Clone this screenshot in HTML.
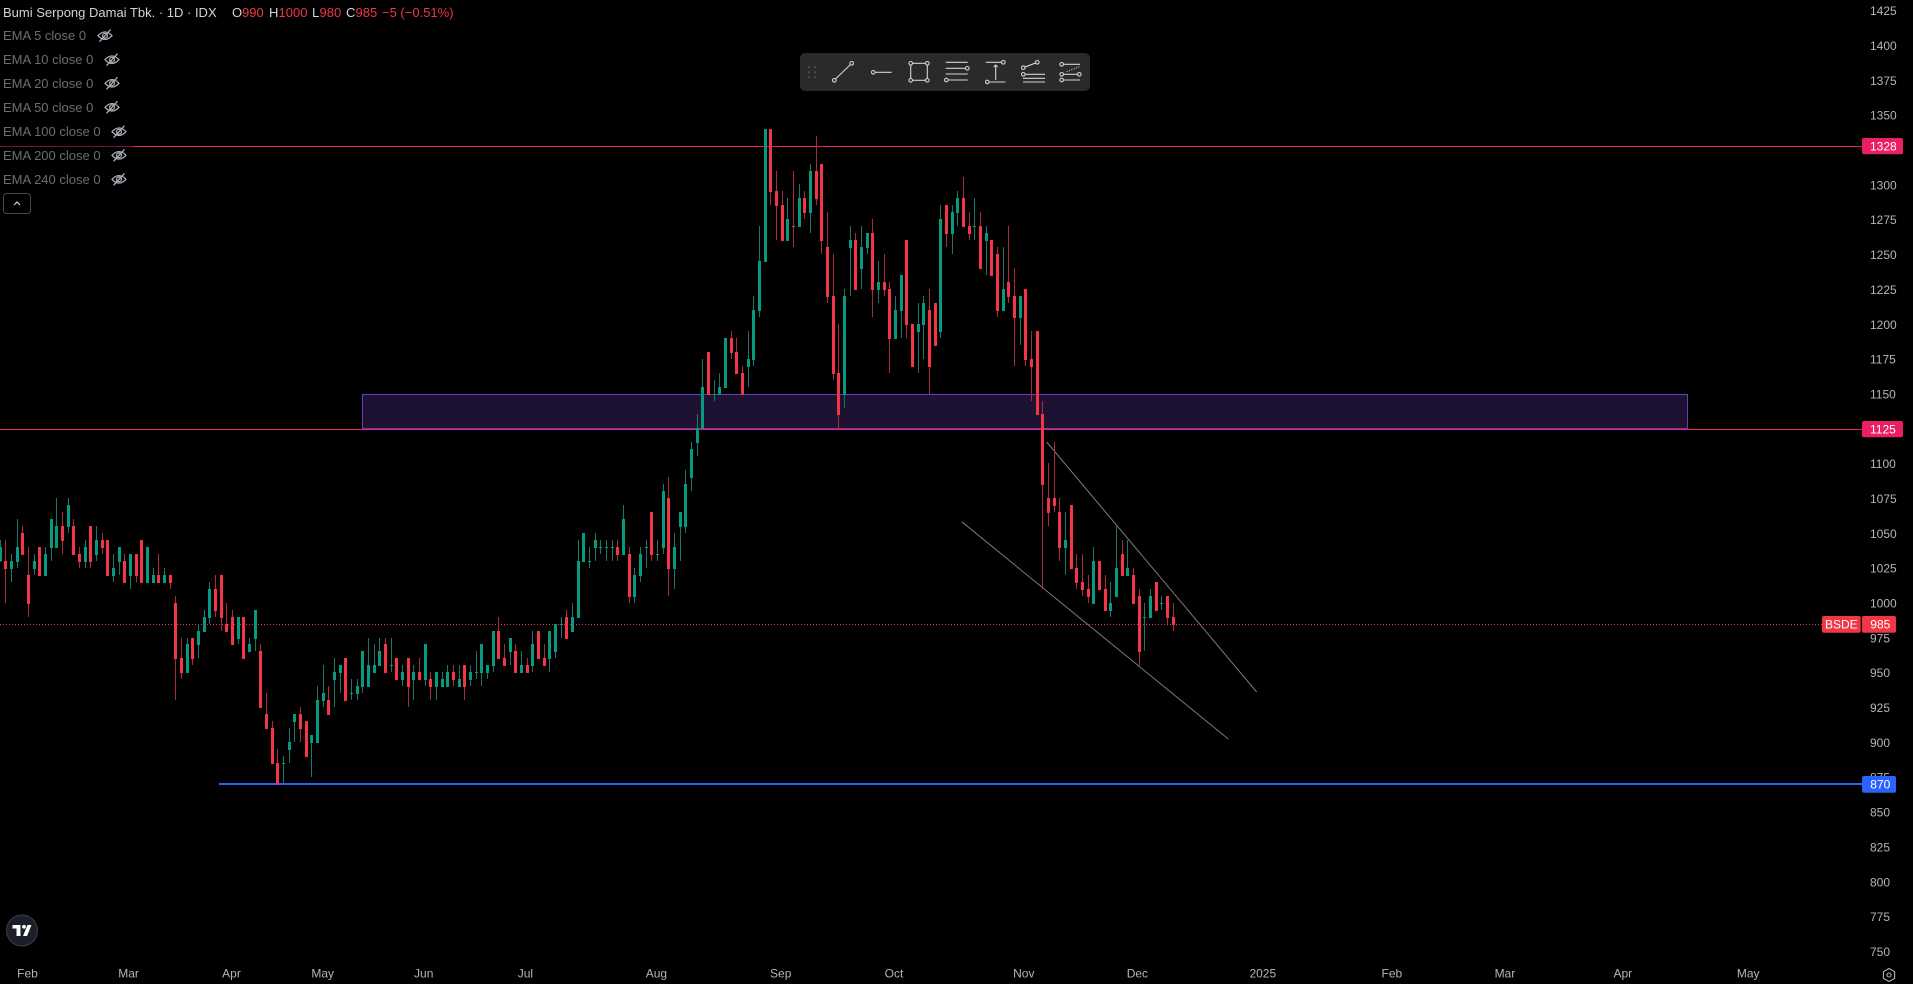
<!DOCTYPE html>
<html><head><meta charset="utf-8">
<style>
html,body{margin:0;padding:0;background:#000;}
svg{display:block;}
text{font-family:"Liberation Sans",sans-serif;}
</style></head>
<body>
<svg id="c" width="1913" height="984" viewBox="0 0 1913 984" xmlns="http://www.w3.org/2000/svg">
<rect x="0" y="0" width="1913" height="984" fill="#000"/>
<!-- purple zone -->
<rect x="362.5" y="394.5" width="1325" height="34" fill="#1e1233" stroke="#6a3cc0" stroke-width="1"/>
<!-- horizontal lines -->
<line x1="133" y1="146.5" x2="1862" y2="146.5" stroke="#e91e63" stroke-width="1"/>
<line x1="0" y1="146.5" x2="133" y2="146.5" stroke="#7a1035" stroke-width="1"/>
<line x1="0" y1="429.5" x2="1862" y2="429.5" stroke="#e91e63" stroke-width="1"/>
<line x1="0" y1="624.5" x2="1822" y2="624.5" stroke="#f23645" stroke-width="1" stroke-dasharray="1 2"/>
<line x1="219" y1="784" x2="1862" y2="784" stroke="#2962ff" stroke-width="2"/>
<!-- wedge -->
<line x1="1046.7" y1="442" x2="1256.7" y2="692" stroke="#7a7a7a" stroke-width="1"/>
<line x1="961.7" y1="521.7" x2="1228.3" y2="739" stroke="#7a7a7a" stroke-width="1"/>
<g id="candles"></g>

<!-- legend -->
<text x="3" y="16.8" font-size="13" fill="#d1d4dc">Bumi Serpong Damai Tbk. · 1D · IDX</text>
<text y="16.8" font-size="13"><tspan x="232" fill="#d1d4dc">O</tspan><tspan x="242" fill="#f23645">990</tspan><tspan x="269" fill="#d1d4dc">H</tspan><tspan x="278.5" fill="#f23645">1000</tspan><tspan x="312" fill="#d1d4dc">L</tspan><tspan x="319.5" fill="#f23645">980</tspan><tspan x="346" fill="#d1d4dc">C</tspan><tspan x="355.5" fill="#f23645">985</tspan><tspan x="382" fill="#f23645">−5 (−0.51%)</tspan></text>
<g font-size="13" fill="#6a6d77">
<text x="3" y="40.2">EMA 5 close 0</text>
<text x="3" y="64.2">EMA 10 close 0</text>
<text x="3" y="87.8">EMA 20 close 0</text>
<text x="3" y="111.8">EMA 50 close 0</text>
<text x="3" y="136.2">EMA 100 close 0</text>
<text x="3" y="159.8">EMA 200 close 0</text>
<text x="3" y="183.8">EMA 240 close 0</text>
</g>
<defs>
<g id="eye" fill="none" stroke="#b2b5be" stroke-width="1.2">
<path d="M-7,0 Q0,-7.5 7,0 Q0,7.5 -7,0 Z"/>
<circle cx="0" cy="0" r="2.4"/>
<line x1="-5.5" y1="6" x2="5.5" y2="-6"/>
</g>
</defs>
<use href="#eye" x="105" y="35.7"/>
<use href="#eye" x="112" y="59.7"/>
<use href="#eye" x="112" y="83.3"/>
<use href="#eye" x="112" y="107.3"/>
<use href="#eye" x="119" y="131.7"/>
<use href="#eye" x="119" y="155.3"/>
<use href="#eye" x="119" y="179.3"/>
<rect x="3.5" y="193.5" width="27" height="20" rx="3" fill="none" stroke="#434651"/>
<path d="M14,205 L17,202 L20,205" fill="none" stroke="#d1d4dc" stroke-width="1.2"/>

<!-- toolbar -->
<rect x="800" y="53" width="290" height="38" rx="5" fill="#2a2a2a"/>
<g fill="#555">
<circle cx="809" cy="67.3" r="1"/><circle cx="815" cy="67.3" r="1"/>
<circle cx="809" cy="72.3" r="1"/><circle cx="815" cy="72.3" r="1"/>
<circle cx="809" cy="77.3" r="1"/><circle cx="815" cy="77.3" r="1"/>
</g>
<g fill="none" stroke="#d1d4dc" stroke-width="1.1">
<line x1="835.5" y1="79" x2="850.5" y2="64.5"/>
<circle cx="834.3" cy="80.3" r="1.8" fill="#2a2a2a"/><circle cx="851.7" cy="63.3" r="1.8" fill="#2a2a2a"/>
<line x1="875" y1="72.3" x2="891.7" y2="72.3"/>
<circle cx="873.3" cy="72.3" r="1.8" fill="#2a2a2a"/>
<rect x="910.7" y="63.3" width="16.6" height="17"/>
<circle cx="910.7" cy="63.3" r="1.8" fill="#2a2a2a"/><circle cx="927.3" cy="63.3" r="1.8" fill="#2a2a2a"/>
<circle cx="910.7" cy="80.3" r="1.8" fill="#2a2a2a"/><circle cx="927.3" cy="80.3" r="1.8" fill="#2a2a2a"/>
<line x1="945.7" y1="62.3" x2="967.7" y2="62.3"/>
<line x1="945.7" y1="68.3" x2="965.5" y2="68.3"/>
<line x1="945.7" y1="74" x2="967.7" y2="74"/>
<line x1="948.5" y1="80" x2="967.7" y2="80"/>
<circle cx="967.3" cy="68.3" r="1.8" fill="#2a2a2a"/><circle cx="946.3" cy="80" r="1.8" fill="#2a2a2a"/>
<line x1="985.7" y1="62.3" x2="1001.5" y2="62.3"/>
<circle cx="1003.3" cy="62.3" r="1.8" fill="#2a2a2a"/>
<line x1="995.7" y1="65" x2="995.7" y2="80"/>
<path d="M993.7,67 L995.7,65 L997.7,67"/>
<line x1="989" y1="82" x2="1005.5" y2="82"/>
<circle cx="987.3" cy="82" r="1.8" fill="#2a2a2a"/>
<line x1="1023.3" y1="67.7" x2="1037.3" y2="62.3"/>
<circle cx="1023.3" cy="67.7" r="1.8" fill="#2a2a2a"/><circle cx="1037.3" cy="62.3" r="1.8" fill="#2a2a2a"/>
<line x1="1025" y1="74.3" x2="1045" y2="74.3"/>
<line x1="1023" y1="78.3" x2="1045" y2="78.3"/>
<line x1="1023" y1="82" x2="1045" y2="82"/>
<circle cx="1023.3" cy="74.3" r="1.8" fill="#2a2a2a"/>
<line x1="1063.5" y1="64.3" x2="1080" y2="64.3"/>
<line x1="1063.5" y1="74.3" x2="1077.5" y2="74.3"/>
<line x1="1063.5" y1="80" x2="1080" y2="80"/>
<line x1="1066.7" y1="71.7" x2="1079.3" y2="66.7" stroke-dasharray="1 1.5"/>
<circle cx="1061.7" cy="64.3" r="1.8" fill="#2a2a2a"/><circle cx="1061.7" cy="74.3" r="1.8" fill="#2a2a2a"/>
<circle cx="1061.7" cy="80" r="1.8" fill="#2a2a2a"/><circle cx="1079.3" cy="74.3" r="1.8" fill="#2a2a2a"/>
</g>

<!-- price axis -->
<g id="paxis" font-size="12" fill="#b2b5be"></g>
<rect x="1862" y="138" width="41" height="16.3" rx="2" fill="#e91e63"/>
<text x="1870" y="150.6" font-size="12" fill="#fff">1328</text>
<rect x="1862" y="421" width="41" height="16.3" rx="2" fill="#e91e63"/>
<text x="1870" y="433.6" font-size="12" fill="#fff">1125</text>
<rect x="1822" y="616" width="38.7" height="16.7" rx="2" fill="#f23645"/>
<text x="1841.3" y="628.6" font-size="12" fill="#fff" text-anchor="middle">BSDE</text>
<rect x="1862" y="616" width="34" height="16.7" rx="2" fill="#f23645"/>
<text x="1870.3" y="628.6" font-size="12" fill="#fff">985</text>
<rect x="1862" y="776" width="34" height="16.7" rx="2" fill="#2962ff"/>
<text x="1870.3" y="788.6" font-size="12" fill="#fff">870</text>
<g fill="none" stroke="#b2b5be" stroke-width="1.1">
<path d="M1889,968.5 L1894.6,971.7 L1894.6,978.3 L1889,981.5 L1883.4,978.3 L1883.4,971.7 Z"/>
<circle cx="1889" cy="975" r="2"/>
</g>

<!-- time axis -->
<g font-size="12" fill="#b2b5be" text-anchor="middle">
<text x="27.5" y="977.3">Feb</text>
<text x="128.6" y="977.3">Mar</text>
<text x="231.5" y="977.3">Apr</text>
<text x="322.7" y="977.3">May</text>
<text x="423.7" y="977.3">Jun</text>
<text x="525.4" y="977.3">Jul</text>
<text x="656.4" y="977.3">Aug</text>
<text x="780.7" y="977.3">Sep</text>
<text x="894" y="977.3">Oct</text>
<text x="1023.8" y="977.3">Nov</text>
<text x="1137.4" y="977.3">Dec</text>
<text x="1262.8" y="977.3">2025</text>
<text x="1391.9" y="977.3">Feb</text>
<text x="1504.9" y="977.3">Mar</text>
<text x="1622.8" y="977.3">Apr</text>
<text x="1748.2" y="977.3">May</text>
</g>

<!-- TV logo -->
<circle cx="22" cy="930.5" r="15.5" fill="#1c1f28" stroke="#3a3e4a" stroke-width="1"/>
<g fill="#fff">
<rect x="12.5" y="925" width="8" height="3.5"/>
<rect x="16.5" y="925" width="4" height="11"/>
<circle cx="24" cy="926.8" r="1.9"/>
<polygon points="27.5,925 31.5,925 27,936 23,936"/>
</g>
</svg>
<script>
(function(){
var NS="http://www.w3.org/2000/svg";
var Z=[
[480,0,"g 200 243 180 245|r 243 267 180 368|g 243 267 222 305|g 201 245 117 263|r 159 225 138 225|r 285 371 201 410|g 243 267 222 285|r 201 287 201 287|g 222 287 201 287|g 117 203 117 243|g 138 203 54 203|r 138 182 96 222|g 75 140 54 159|r 138 224 117 224|r 222 245 201 263|g 201 245 180 263|r 138 245 138 263|g 180 224 138 243|r 180 203 159 222|r 180 287 180 287|g 264 287 222 305|g 201 245 201 285|r 243 308 222 308|g 222 287 222 326|r 222 287 222 305|r 180 308 180 308|g 201 308 201 308|g 285 308 264 308|r 285 308 222 308|g 285 308 264 308|r 285 308 285 326|r 369 537 348 660|r 534 579 474 597|g 492 579 474 579|r 474 537 474 555|g 453 495 432 534|g 411 456 390 456|g 327 414 306 432|r 327 393 285 411|r 285 414 285 453|r 432 456 369 456|r 411 495 390 495|g 411 477 411 492|r 411 537 411 537|g 492 516 474 516|g 390 477 390 513|r 513 684 492 684|r 702 747 639 747|r 744 852 723 852|r 849 915 807 915|g 849 852 828 912|g 786 810 744 849|g 702 726 702 786|r 702 747 681 786|r 723 831 723 831|g 765 789 765 891|g 660 789 618 789|g 639 663 555 681|r 660 705 618 705"],
[380,59,"g 876 900 834 980|g 855 879 855 938|r 834 963 834 963|g 939 942 897 960|g 918 942 897 960|g 813 921 813 938|g 855 921 774 921|g 855 879 792 879|g 813 858 774 858|r 792 879 774 879|g 855 858 774 876|r 834 900 834 900|g 876 900 855 918|r 834 921 834 980|g 876 900 855 960|r 876 900 834 900|g 792 900 792 918|r 897 921 876 960|g 876 921 876 960|g 897 921 876 921|g 876 921 855 921|r 876 900 855 918|g 897 921 855 921|r 855 921 855 960|g 876 900 855 918|g 876 879 813 897|g 792 879 792 918|g 855 879 855 897|g 753 858 753 876|r 753 837 711 837|r 834 858 792 858|g 774 816 774 855|r 813 879 792 879|g 855 879 813 879|r 855 879 834 879|g 792 858 753 876|r 753 837 753 837|r 834 858 792 858|g 753 837 753 876|g 732 816 732 834|g 732 735 711 774|r 711 777 690 777|g 711 756 669 756|g 543 714 480 714|g 459 546 459 546|g 543 546 501 564|g 480 504 459 543|g 501 504 480 522|g 501 504 480 543|g 501 504 480 543|r 501 525 480 543|g 417 525 375 525|r 522 651 501 669|g 585 651 564 669|g 522 588 501 606|g 501 504 480 564|r 396 525 396 543|g 522 525 480 543|g 333 504 312 522|r 354 567 291 648|g 501 567 459 627|g 396 441 396 543|g 312 441 270 459|g 207 294 186 333"],
[120,123,"g 924 969 882 1008|g 801 927 717 927|r 696 825 696 825|g 822 825 780 843|g 801 825 759 825|g 654 804 654 804|r 654 699 633 717|r 696 762 654 762|r 759 825 738 825|g 717 741 633 801|g 570 720 528 738|g 423 573 318 591|g 27 426 27 426|r 27 216 27 255|r 213 258 153 360|r 255 363 213 363|g 297 363 234 363|r 318 321 153 381|g 234 321 192 321|r 234 279 213 297|g 153 279 132 339|r 153 237 48 255|r 132 363 132 402|r 381 531 276 549|r 528 762 402 780|r 759 885 612 925|g 528 825 507 864|g 360 384 318 528|r 360 510 339 510|g 381 447 318 507|g 339 384 339 402|r 339 510 297 591|g 486 510 423 549|r 486 510 402 528|r 507 657 486 759|g 570 657 528 657|g 465 573 465 654|r 360 615 360 654|r 612 741 612 741|g 612 636 549 759|g 549 615 528 717|r 570 741 507 822|r 549 678 549 678|g 297 636 255 654|r 255 342 255 381|g 276 342 255 402|g 234 279 213 318|r 234 321 171 321|r 318 342 276 360|g 318 321 234 360|r 318 447 276 447|g 339 363 318 465|r 360 468 360 468|r 402 573 381 591|g 507 573 381 573|r 486 531 318 549|r 528 594 444 738|g 528 594 528 675|r 507 720 507 738"],
[280,182,"r 237 261 153 363|r 153 405 153 405|r 402 615 363 927|r 654 699 549 738|r 654 678 486 696|r 696 804 654 843|g 780 804 696 885|r 675 867 675 867|r 864 909 822 927|r 906 930 822 948|r 927 951 885 969|g 843 972 801 972|r 843 930 843 930|r 927 993 885 993|g 969 993 906 1011|g 864 951 738 951|r 822 888 780 888|g 864 888 780 888|r 885 972 864 972|r 948 1116 927 1158|g 1011 1014 969 1113|g 948 1014 927 1014|r 906 993 906 993|g 969 972 948 990|r 948 1014 948 1032|r 1011 1035 969 1053"]
];
var g=document.getElementById("candles");
function R(x,y,w,h,f){var r=document.createElementNS(NS,"rect");r.setAttribute("x",x);r.setAttribute("y",y);r.setAttribute("width",w);r.setAttribute("height",h);r.setAttribute("fill",f);g.appendChild(r);}
Z.forEach(function(z){
 var off=z[0],st=z[1],items=z[2].split("|");
 items.forEach(function(s,k){
  var p=s.split(" "),i=st+k,c=p[0];
  var bt=Math.round(off+(+p[1])/3),bb=Math.round(off+(+p[2])/3),wt=Math.round(off+(+p[3])/3),wb=Math.round(off+(+p[4])/3);
  var xc=Math.round(-0.33+5.667*i);
  var body=c=="g"?"#089981":"#f23645",wick=c=="g"?"#1f7564":"#a82c3b";
  if(wb>wt)R(xc,wt,1,wb-wt,wick);
  R(xc-1,bt,3,Math.max(1,bb-bt),body);
 });
});
var pa=document.getElementById("paxis");
for(var p=1425;p>=750;p-=25){
 if(p==1325||p==1125)continue;
 var y=45.7+(1400-p)*1.3938;
 var t=document.createElementNS(NS,"text");
 t.setAttribute("x",1870);t.setAttribute("y",(y+4.3).toFixed(1));
 t.textContent=p;pa.appendChild(t);
}
})();
</script>
</body></html>
